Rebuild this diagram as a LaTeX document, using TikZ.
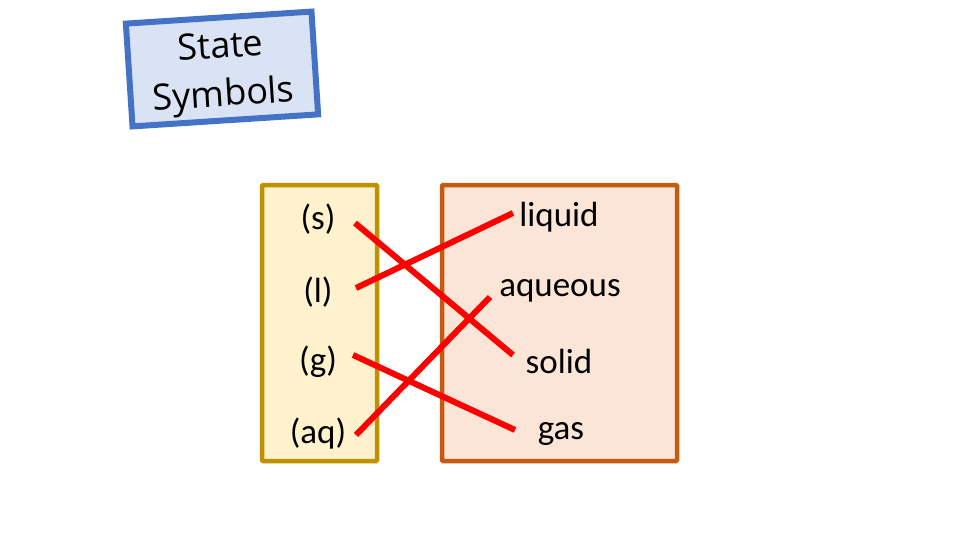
\documentclass[tikz,border=0pt]{standalone}
\usepackage{fontspec}
\setmainfont{Carlito}
\newfontfamily\titlefont{Open Sans}
\definecolor{titleblue}{HTML}{4472C4}
\definecolor{titlefill}{HTML}{DAE3F3}
\definecolor{goldline}{HTML}{BF9000}
\definecolor{goldfill}{HTML}{FFF2CC}
\definecolor{orangeline}{HTML}{C55A11}
\definecolor{orangefill}{HTML}{FBE5D6}
\definecolor{matchred}{HTML}{FF0000}
\tikzset{
  panel/.style={line width=4.5pt, rounded corners=1pt},
  lbl/.style={font=\fontsize{35}{40}\selectfont, inner sep=0pt},
  match/.style={draw=matchred, line width=6pt},
}
\begin{document}
\begin{tikzpicture}[x=1pt,y=-1pt]
\useasboundingbox (0,0) rectangle (960,540);
% title
\node[draw=titleblue, fill=titlefill, line width=6pt, minimum width=186pt, minimum height=103pt,
      rotate=3.7, align=center, inner sep=0pt, text depth=0pt,
      font=\titlefont\fontsize{36}{48}\selectfont] (title) at (222,69) {State\\Symbols};
% panels
\draw[panel, draw=goldline, fill=goldfill] (262,185) rectangle (377,461);
\draw[panel, draw=orangeline, fill=orangefill] (442,185) rectangle (677,461);
% left labels
\node[lbl] (s) at (318,219) {(s)};
\node[lbl] (l) at (318,292) {(l)};
\node[lbl] (g) at (318,362) {(g)};
\node[lbl] (aq) at (318,434) {(aq)};
% right labels
\node[lbl] (liquid) at (559,217) {liquid};
\node[lbl] (aqueous) at (560,291) {aqueous};
\node[lbl] (solid) at (559,361) {solid};
\node[lbl] (gas) at (561,434) {gas};
% connector end points
\coordinate (s1) at (355,223);   \coordinate (s2) at (513,355);
\coordinate (l1) at (356,288);   \coordinate (l2) at (513,213);
\coordinate (g1) at (353,355);   \coordinate (g2) at (515,430);
\coordinate (aq1) at (356,435);  \coordinate (aq2) at (490,297);
\draw[match] (s1) -- (s2);
\draw[match] (l1) -- (l2);
\draw[match] (g1) -- (g2);
\draw[match] (aq1) -- (aq2);
\end{tikzpicture}
\end{document}
